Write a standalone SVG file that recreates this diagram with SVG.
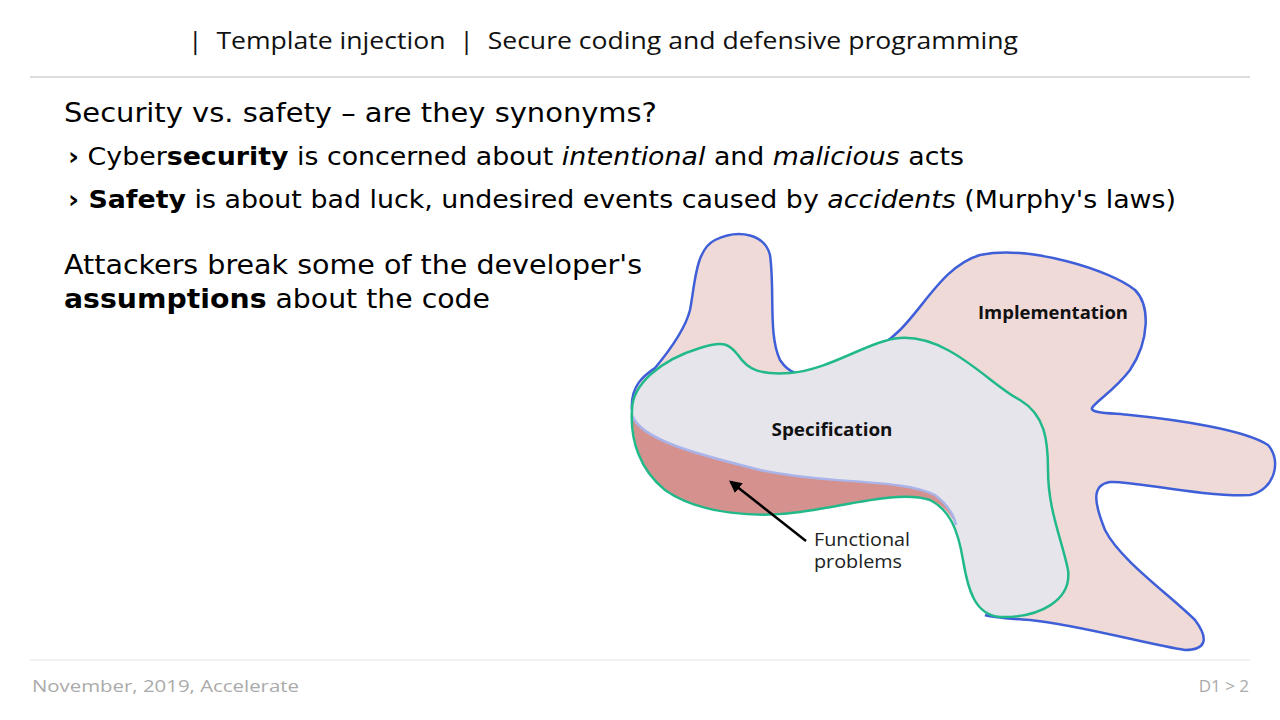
<svg xmlns="http://www.w3.org/2000/svg" width="1280" height="720" viewBox="0 0 1280 720">
<style>
.h{font-family:"Open Sans",Inter,sans-serif;font-size:23px;fill:#111}
.b{font-family:"DejaVu Sans",Verdana,sans-serif;fill:#000}
.f{font-family:"Open Sans",Inter,sans-serif;font-size:17px;fill:#aaa}
.l{font-family:"Open Sans",Inter,sans-serif;font-size:17px;font-weight:bold;fill:#111}
.s{font-family:"Open Sans",Inter,sans-serif;font-size:18px;fill:#222}
</style>
<defs><marker id="ah" viewBox="0 0 10 10" refX="8" refY="5" markerWidth="5" markerHeight="5" orient="auto"><path d="M0,0L10,5L0,10z" fill="#000"/></marker></defs>
<rect width="1280" height="720" fill="#fff"/>
<text class="h" x="188" y="49" xml:space="preserve" textLength="830" lengthAdjust="spacingAndGlyphs">|  Template injection  |  Secure coding and defensive programming</text>
<line x1="30" y1="77" x2="1250" y2="77" stroke="#bbb"/>
<text class="b" x="64" y="122" font-size="26" textLength="593" lengthAdjust="spacingAndGlyphs">Security vs. safety – are they synonyms?</text>
<text class="b" x="68" y="165" font-size="25" textLength="896" lengthAdjust="spacingAndGlyphs"><tspan font-weight="bold">›</tspan> Cyber<tspan font-weight="bold">security</tspan> is concerned about <tspan font-style="italic">intentional</tspan> and <tspan font-style="italic">malicious</tspan> acts</text>
<text class="b" x="68" y="208" font-size="25" textLength="1108" lengthAdjust="spacingAndGlyphs"><tspan font-weight="bold">› Safety</tspan> is about bad luck, undesired events caused by <tspan font-style="italic">accidents</tspan> (Murphy's laws)</text>
<text class="b" x="64" y="274" font-size="26" textLength="578" lengthAdjust="spacingAndGlyphs">Attackers break some of the developer's</text>
<text class="b" x="64" y="308" font-size="26" textLength="426" lengthAdjust="spacingAndGlyphs"><tspan font-weight="bold">assumptions</tspan> about the code</text>
<g id="implementation">
<path d="M632,410 C630,385 645,375 655,368 C670,350 685,330 690,310 C695,285 695,250 715,240 C740,228 765,235 770,255 C775,290 768,335 780,360 C790,375 800,375 810,372 C850,365 880,350 900,330 C925,305 945,265 980,255 C1030,245 1110,270 1135,290 C1150,305 1150,340 1130,370 C1115,390 1095,402 1092,408 C1090,413 1110,413 1130,415 C1180,420 1245,430 1268,445 C1282,460 1275,490 1250,495 C1200,497 1130,480 1110,482 C1090,485 1095,505 1105,530 C1120,560 1170,595 1195,620 C1210,640 1205,650 1185,650 C1150,645 1080,625 1030,620 C1000,618 990,617 985,615 L1000,500 L900,450 L700,420 Z" fill="#f0dad8"/>
<path d="M632,410 C630,385 645,375 655,368 C670,350 685,330 690,310 C695,285 695,250 715,240 C740,228 765,235 770,255 C775,290 768,335 780,360 C790,375 800,375 810,372 C850,365 880,350 900,330 C925,305 945,265 980,255 C1030,245 1110,270 1135,290 C1150,305 1150,340 1130,370 C1115,390 1095,402 1092,408 C1090,413 1110,413 1130,415 C1180,420 1245,430 1268,445 C1282,460 1275,490 1250,495 C1200,497 1130,480 1110,482 C1090,485 1095,505 1105,530 C1120,560 1170,595 1195,620 C1210,640 1205,650 1185,650 C1150,645 1080,625 1030,620 C1000,618 990,617 985,615" fill="none" stroke="#3f5fd8" stroke-width="2.5"/>
<text class="l" x="1053" y="319" text-anchor="middle" textLength="150" lengthAdjust="spacingAndGlyphs">Implementation</text>
</g>
<g id="specification">
<path d="M632,410 C632,385 660,360 700,348 C725,340 730,345 738,355 C748,370 760,375 790,373 C830,370 870,340 900,338 C950,335 990,385 1020,400 C1045,415 1048,440 1048,470 C1048,510 1062,540 1068,570 C1072,600 1040,618 1000,617 C975,615 968,590 963,560 C958,530 950,510 930,500 C900,490 850,505 800,512 C760,518 700,515 665,490 C640,470 630,440 632,410 Z" fill="#e6e5ec"/>
<path d="M632,415 C640,440 700,455 760,470 C830,485 900,478 935,495 C948,505 954,515 956,525 C950,512 940,503 930,500 C900,490 850,505 800,512 C760,518 700,515 665,490 C645,475 634,450 632,415 Z" fill="#d4918d"/>
<path d="M632,415 C640,440 700,455 760,470 C830,485 900,478 935,495 C948,505 954,515 956,525" fill="none" stroke="#aab4e8" stroke-width="2.5"/>
<path d="M632,410 C632,385 660,360 700,348 C725,340 730,345 738,355 C748,370 760,375 790,373 C830,370 870,340 900,338 C950,335 990,385 1020,400 C1045,415 1048,440 1048,470 C1048,510 1062,540 1068,570 C1072,600 1040,618 1000,617 C975,615 968,590 963,560 C958,530 950,510 930,500 C900,490 850,505 800,512 C760,518 700,515 665,490 C640,470 630,440 632,410 Z" fill="none" stroke="#22b98a" stroke-width="2.5"/>
<text class="l" x="832" y="436" text-anchor="middle" textLength="121" lengthAdjust="spacingAndGlyphs">Specification</text>
</g>
<g id="connectors">
<line x1="806" y1="541" x2="731" y2="482" stroke="#000" stroke-width="2.5" marker-end="url(#ah)"/>
</g>
<g id="functional-problems">
<text class="s" x="814" y="546" textLength="96" lengthAdjust="spacingAndGlyphs">Functional</text>
<text class="s" x="814" y="568" textLength="88" lengthAdjust="spacingAndGlyphs">problems</text>
</g>
<line x1="30" y1="660" x2="1250" y2="660" stroke="#e4e4e4"/>
<text class="f" x="32" y="692" textLength="267" lengthAdjust="spacingAndGlyphs">November, 2019, Accelerate</text>
<text class="f" x="1249" y="692" text-anchor="end">D1 &gt; 2</text>
</svg>
